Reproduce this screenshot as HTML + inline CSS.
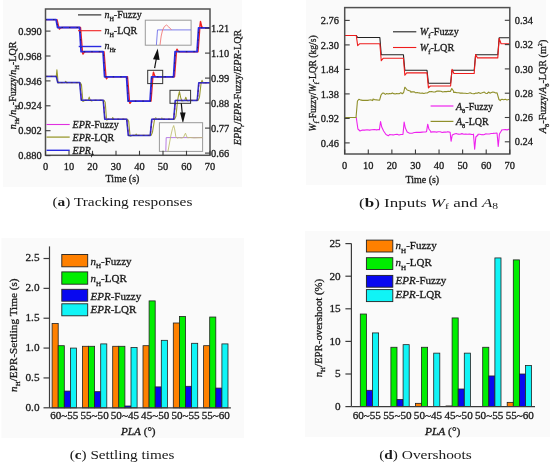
<!DOCTYPE html>
<html><head><meta charset="utf-8"><title>Figure</title>
<style>
html,body{margin:0;padding:0;background:#fff;}
body{width:550px;height:467px;overflow:hidden;}
svg{display:block;filter:blur(0.35px);}
svg text{font-family:"Liberation Serif", serif;fill:#1a1a1a;stroke:#1a1a1a;stroke-width:0.3px;}
</style></head>
<body>
<svg width="550" height="467" viewBox="0 0 550 467">
<rect width="550" height="467" fill="#fff"/>
<rect x="3.00" y="0.00" width="239.00" height="187.00" fill="#fafafa" stroke="none" stroke-width="1.0" />
<rect x="306.00" y="0.00" width="240.00" height="185.00" fill="#fafafa" stroke="none" stroke-width="1.0" />
<rect x="1.50" y="238.00" width="242.50" height="200.00" fill="#fafafa" stroke="none" stroke-width="1.0" />
<rect x="305.00" y="231.00" width="245.00" height="206.00" fill="#fafafa" stroke="none" stroke-width="1.0" />
<polyline points="45.50,76.40 56.31,76.40 58.07,82.60 79.81,82.60 81.57,100.30 103.31,100.30 105.07,119.20 126.81,119.20 128.57,135.40 150.31,135.40 152.07,119.20 173.81,119.20 175.57,100.40 197.31,100.40 199.07,82.80 210.00,82.80" fill="none" stroke="#e030e0" stroke-width="1.0" stroke-linejoin="round" />
<polyline points="45.50,76.40 56.31,76.40 56.90,69.80 57.48,75.40 58.07,83.00 59.37,82.60 64.77,82.60 65.71,81.40 66.65,82.60 80.05,82.60 81.45,84.60 82.87,101.50 84.98,100.30 88.15,100.30 89.21,97.10 90.27,100.30 91.56,100.90 93.67,100.30 104.02,100.30 105.19,102.30 106.60,120.00 108.72,119.20 111.77,119.20 112.71,117.60 113.65,119.20 127.52,119.20 128.69,121.20 130.10,136.20 132.22,135.40 135.27,135.40 136.21,134.10 137.15,135.40 151.01,135.40 152.43,132.40 154.54,119.50 155.72,117.80 157.36,119.20 160.88,119.20 161.82,118.00 162.76,119.20 174.51,119.20 175.93,116.20 177.57,100.90 178.51,95.40 179.45,91.60 180.62,97.40 181.80,101.00 183.21,100.60 184.74,100.40 185.79,97.30 186.85,100.40 187.68,100.90 190.03,100.40 198.02,100.40 199.43,97.40 201.07,83.20 202.01,80.30 203.18,83.00 205.30,82.80 210.00,82.80" fill="none" stroke="#9a9a30" stroke-width="1.1" stroke-linejoin="round" />
<polyline points="45.50,76.40 56.19,76.40 57.72,82.60 79.69,82.60 81.22,100.30 103.19,100.30 104.72,119.20 126.69,119.20 128.22,135.40 150.19,135.40 151.72,119.20 173.69,119.20 175.22,100.40 197.19,100.40 198.72,82.80 210.00,82.80" fill="none" stroke="#3030d0" stroke-width="1.5" stroke-linejoin="round" />
<polyline points="45.50,76.40 56.31,76.40 57.95,82.60 79.81,82.60 81.45,100.30 103.31,100.30 104.96,119.20 126.81,119.20 128.45,135.40 150.31,135.40 151.95,119.20 173.81,119.20 175.46,100.40 197.31,100.40 198.96,82.80 210.00,82.80" fill="none" stroke="#402a70" stroke-width="0.9" stroke-linejoin="round" stroke-dasharray="2,3"/>
<polyline points="45.50,19.60 57.02,19.60 59.01,28.14 59.48,29.10 60.77,27.74 62.42,27.50 80.52,27.50 82.51,52.66 82.98,54.10 84.28,52.06 85.92,51.70 104.02,51.70 106.01,77.60 106.48,78.80 107.78,77.10 109.42,76.80 127.52,76.80 129.51,102.02 129.98,103.40 131.28,101.44 132.92,101.10 151.01,101.10 153.01,74.96 153.48,72.20 154.78,76.11 156.42,76.80 174.51,76.80 176.51,50.66 176.98,49.10 178.28,51.31 179.92,51.70 198.02,51.70 200.01,25.28 200.48,21.50 201.78,26.86 203.42,27.80 210.00,27.80" fill="none" stroke="#f02020" stroke-width="1.4" stroke-linejoin="round" />
<polyline points="45.50,19.60 56.08,19.60 57.60,27.50 79.58,27.50 81.10,51.70 103.08,51.70 104.60,76.80 126.58,76.80 128.10,101.10 150.07,101.10 151.60,76.80 173.57,76.80 175.10,51.70 197.07,51.70 198.60,27.80 210.00,27.80" fill="none" stroke="#2a2ae0" stroke-width="1.8" stroke-linejoin="round" />
<polyline points="45.50,19.60 56.43,19.60 57.95,27.50 79.93,27.50 81.45,51.70 103.43,51.70 104.96,76.80 126.93,76.80 128.45,101.10 150.43,101.10 151.95,76.80 173.93,76.80 175.46,51.70 197.43,51.70 198.96,27.80 210.00,27.80" fill="none" stroke="#202050" stroke-width="0.8" stroke-linejoin="round" stroke-dasharray="1.5,6"/>
<rect x="147.70" y="70.30" width="15.00" height="13.30" fill="none" stroke="#333" stroke-width="1.0" />
<line x1="154.60" y1="68.20" x2="156.40" y2="58.50" stroke="#111" stroke-width="1.2" />
<polygon points="153.0,59.2 157.7,48.5 159.6,59.9" fill="#111"/>
<rect x="145.30" y="20.20" width="45.80" height="25.00" fill="#fcfcfc" stroke="#9a9a9a" stroke-width="1.0" />
<polyline points="156.40,45.00 157.50,29.90 191.00,29.90" fill="none" stroke="#7070e8" stroke-width="0.9" stroke-linejoin="round" />
<polyline points="160.00,45.00 161.20,36.00 162.60,30.00 164.40,26.50 166.60,25.00 168.80,27.00 171.60,29.90" fill="none" stroke="#f07878" stroke-width="0.9" stroke-linejoin="round" />
<rect x="170.00" y="90.30" width="20.60" height="13.00" fill="none" stroke="#333" stroke-width="1.0" />
<line x1="181.30" y1="103.30" x2="182.30" y2="114.00" stroke="#111" stroke-width="1.2" />
<polygon points="180.0,112.4 182.9,123.6 185.6,112.4" fill="#111"/>
<rect x="159.40" y="122.70" width="43.20" height="28.70" fill="#fcfcfc" stroke="#9a9a9a" stroke-width="1.0" />
<polyline points="165.80,151.20 166.20,137.60 202.60,137.60" fill="none" stroke="#b070e0" stroke-width="0.9" stroke-linejoin="round" />
<polyline points="168.00,151.20 169.50,143.00 171.00,135.00 172.50,128.50 173.70,125.50 174.80,130.00 175.80,136.50 177.00,138.20 179.00,137.60 181.50,138.00 183.50,137.50 184.50,135.00 185.50,133.20 186.50,136.00 187.50,137.80 190.00,137.50 194.00,137.90 202.60,137.60" fill="none" stroke="#c0c070" stroke-width="0.9" stroke-linejoin="round" />
<rect x="45.50" y="9.00" width="164.50" height="146.30" fill="none" stroke="#505050" stroke-width="1.5" />
<line x1="45.50" y1="31.10" x2="50.50" y2="31.10" stroke="#3c3c3c" stroke-width="1.1" />
<text x="41.60" y="34.70" font-size="10.4" text-anchor="end" >0.990</text>
<line x1="45.50" y1="56.00" x2="50.50" y2="56.00" stroke="#3c3c3c" stroke-width="1.1" />
<text x="41.60" y="59.60" font-size="10.4" text-anchor="end" >0.968</text>
<line x1="45.50" y1="80.90" x2="50.50" y2="80.90" stroke="#3c3c3c" stroke-width="1.1" />
<text x="41.60" y="84.50" font-size="10.4" text-anchor="end" >0.946</text>
<line x1="45.50" y1="105.80" x2="50.50" y2="105.80" stroke="#3c3c3c" stroke-width="1.1" />
<text x="41.60" y="109.40" font-size="10.4" text-anchor="end" >0.924</text>
<line x1="45.50" y1="130.70" x2="50.50" y2="130.70" stroke="#3c3c3c" stroke-width="1.1" />
<text x="41.60" y="134.30" font-size="10.4" text-anchor="end" >0.902</text>
<line x1="45.50" y1="155.60" x2="50.50" y2="155.60" stroke="#3c3c3c" stroke-width="1.1" />
<text x="41.60" y="159.20" font-size="10.4" text-anchor="end" >0.880</text>
<line x1="205.00" y1="28.10" x2="210.00" y2="28.10" stroke="#3c3c3c" stroke-width="1.1" />
<text x="211.00" y="31.70" font-size="10.4" text-anchor="start" >1.21</text>
<line x1="205.00" y1="53.10" x2="210.00" y2="53.10" stroke="#3c3c3c" stroke-width="1.1" />
<text x="211.00" y="56.70" font-size="10.4" text-anchor="start" >1.10</text>
<line x1="205.00" y1="78.10" x2="210.00" y2="78.10" stroke="#3c3c3c" stroke-width="1.1" />
<text x="211.00" y="81.70" font-size="10.4" text-anchor="start" >0.99</text>
<line x1="205.00" y1="103.10" x2="210.00" y2="103.10" stroke="#3c3c3c" stroke-width="1.1" />
<text x="211.00" y="106.70" font-size="10.4" text-anchor="start" >0.88</text>
<line x1="205.00" y1="128.10" x2="210.00" y2="128.10" stroke="#3c3c3c" stroke-width="1.1" />
<text x="211.00" y="131.70" font-size="10.4" text-anchor="start" >0.77</text>
<line x1="205.00" y1="153.10" x2="210.00" y2="153.10" stroke="#3c3c3c" stroke-width="1.1" />
<text x="211.00" y="156.70" font-size="10.4" text-anchor="start" >0.66</text>
<line x1="45.50" y1="155.30" x2="45.50" y2="150.80" stroke="#3c3c3c" stroke-width="1.1" />
<text x="45.50" y="169.60" font-size="10.4" text-anchor="middle" >0</text>
<line x1="69.00" y1="155.30" x2="69.00" y2="150.80" stroke="#3c3c3c" stroke-width="1.1" />
<text x="69.00" y="169.60" font-size="10.4" text-anchor="middle" >10</text>
<line x1="92.50" y1="155.30" x2="92.50" y2="150.80" stroke="#3c3c3c" stroke-width="1.1" />
<text x="92.50" y="169.60" font-size="10.4" text-anchor="middle" >20</text>
<line x1="116.00" y1="155.30" x2="116.00" y2="150.80" stroke="#3c3c3c" stroke-width="1.1" />
<text x="116.00" y="169.60" font-size="10.4" text-anchor="middle" >30</text>
<line x1="139.50" y1="155.30" x2="139.50" y2="150.80" stroke="#3c3c3c" stroke-width="1.1" />
<text x="139.50" y="169.60" font-size="10.4" text-anchor="middle" >40</text>
<line x1="163.00" y1="155.30" x2="163.00" y2="150.80" stroke="#3c3c3c" stroke-width="1.1" />
<text x="163.00" y="169.60" font-size="10.4" text-anchor="middle" >50</text>
<line x1="186.50" y1="155.30" x2="186.50" y2="150.80" stroke="#3c3c3c" stroke-width="1.1" />
<text x="186.50" y="169.60" font-size="10.4" text-anchor="middle" >60</text>
<line x1="210.00" y1="155.30" x2="210.00" y2="150.80" stroke="#3c3c3c" stroke-width="1.1" />
<text x="210.00" y="169.60" font-size="10.4" text-anchor="middle" >70</text>
<text x="122.50" y="181.80" font-size="10" text-anchor="middle" >Time (s)</text>
<line x1="78.00" y1="14.90" x2="101.30" y2="14.90" stroke="#202020" stroke-width="1.1" />
<line x1="78.00" y1="30.70" x2="101.30" y2="30.70" stroke="#f02020" stroke-width="1.1" />
<line x1="78.70" y1="46.50" x2="101.30" y2="46.50" stroke="#2a2ae0" stroke-width="1.4" />
<text x="104.40" y="17.80" font-size="10"><tspan font-style="italic">n</tspan><tspan font-size="6.20" dy="3">H</tspan><tspan dy="-3">-Fuzzy</tspan></text>
<text x="104.40" y="33.60" font-size="10"><tspan font-style="italic">n</tspan><tspan font-size="6.20" dy="3">H</tspan><tspan dy="-3">-LQR</tspan></text>
<text x="104.40" y="49.20" font-size="10"><tspan font-style="italic">n</tspan><tspan font-size="6.20" dy="3">Hr</tspan><tspan dy="-3"></tspan></text>
<line x1="46.50" y1="124.50" x2="69.70" y2="124.50" stroke="#e030e0" stroke-width="1.1" />
<line x1="46.50" y1="137.10" x2="69.70" y2="137.10" stroke="#9a9a30" stroke-width="1.3" />
<line x1="46.50" y1="150.30" x2="69.70" y2="150.30" stroke="#2a2ae0" stroke-width="1.4" />
<text x="72.6" y="127.8" font-size="10"><tspan font-style="italic">EPR</tspan>-Fuzzy</text>
<text x="72.6" y="140.6" font-size="10"><tspan font-style="italic">EPR</tspan>-LQR</text>
<text x="72.6" y="153.5" font-size="10"><tspan font-style="italic">EPR</tspan><tspan font-size="6.4" dy="3" font-style="italic">r</tspan></text>
<text transform="translate(16.2,85.5) rotate(-90)" font-size="10" text-anchor="middle"><tspan font-style="italic">n</tspan><tspan font-size="6.4" dy="3">Hr</tspan><tspan dy="-3">/</tspan><tspan font-style="italic">n</tspan><tspan font-size="6.4" dy="3">H</tspan><tspan dy="-3">-Fuzzy/</tspan><tspan font-style="italic">n</tspan><tspan font-size="6.4" dy="3">H</tspan><tspan dy="-3">-LQR</tspan></text>
<text transform="translate(241.2,87.5) rotate(-90)" font-size="10.2" text-anchor="middle" textLength="115.5" lengthAdjust="spacingAndGlyphs"><tspan font-style="italic">EPR</tspan><tspan font-size="6.4" dy="3" font-style="italic">r</tspan><tspan dy="-3">/</tspan><tspan font-style="italic">EPR</tspan>-Fuzzy/<tspan font-style="italic">EPR</tspan>-LQR</text>
<text x="52.4" y="206.2" font-size="13.2" style="stroke-width:0" textLength="140" lengthAdjust="spacingAndGlyphs">(<tspan font-weight="bold">a</tspan>) Tracking responses</text>
<polyline points="344.70,117.50 356.26,117.50 357.91,129.00 360.03,131.00 362.39,130.00 362.39,130.03 364.75,130.09 367.11,129.80 369.46,130.10 371.82,129.69 374.18,129.55 376.54,129.86 378.90,129.52 379.37,129.80 380.55,121.50 381.73,127.00 383.62,131.00 385.98,134.50 388.33,135.80 389.51,134.60 391.40,134.77 393.29,134.92 395.17,134.43 397.06,134.27 398.95,135.05 400.83,134.46 402.96,134.50 404.14,122.10 405.32,128.00 407.20,132.00 409.56,133.20 410.74,133.26 412.63,133.08 414.51,132.44 416.40,132.40 418.29,132.34 420.17,132.34 422.06,132.17 423.95,132.01 425.83,131.95 426.54,131.60 427.72,124.20 428.90,129.00 430.79,131.50 430.79,132.24 432.67,131.85 434.56,131.81 436.45,132.14 438.34,131.70 440.22,131.80 442.11,132.51 444.00,132.10 445.88,132.16 447.77,131.67 449.66,132.11 450.13,132.20 451.07,141.30 452.25,135.00 454.37,134.00 454.37,134.08 456.26,133.54 458.15,134.16 460.03,134.19 461.92,133.64 463.81,134.23 465.69,134.08 467.58,134.32 469.47,134.01 471.36,134.38 473.24,134.44 473.48,134.20 474.66,149.30 475.84,137.00 477.96,135.00 477.96,134.32 479.85,134.20 481.73,134.66 483.62,134.79 485.51,133.92 487.39,133.97 489.28,133.94 491.17,133.51 493.05,133.40 494.94,133.19 496.83,133.09 497.06,133.20 498.24,146.40 499.42,134.00 501.55,130.50 501.55,130.08 503.43,129.73 505.32,129.67 507.21,129.87 509.09,129.16 509.80,129.50" fill="none" stroke="#ee22ee" stroke-width="1.1" stroke-linejoin="round" />
<polyline points="344.70,117.50 356.02,117.50 357.44,101.00 358.85,99.30 361.21,100.20 361.21,100.09 362.86,100.34 364.51,100.20 366.16,100.38 367.81,100.40 369.46,99.95 371.12,99.91 372.77,100.57 373.00,99.00 374.42,99.60 379.61,100.20 381.02,95.00 382.44,93.20 382.44,93.21 383.85,93.15 385.27,94.35 386.68,93.49 388.10,94.06 389.51,93.46 390.93,93.70 392.34,92.90 393.76,93.65 395.17,94.00 396.59,93.43 398.00,93.76 399.42,93.63 400.83,92.64 402.25,93.73 403.66,92.50 404.84,87.20 407.20,90.00 410.74,91.20 410.74,92.11 412.39,91.89 414.04,91.70 415.69,92.83 417.34,92.48 419.00,92.91 420.65,93.23 422.30,93.16 423.95,93.54 425.60,93.04 427.25,93.00 429.61,91.50 429.61,91.80 431.50,91.44 433.38,91.94 435.27,91.88 437.16,91.10 439.04,91.14 440.93,91.22 442.82,91.97 444.70,91.44 446.59,91.63 448.48,91.30 450.36,91.51 450.84,90.50 451.78,88.50 453.67,91.20 453.67,92.39 455.32,92.41 456.97,92.71 458.62,92.78 460.27,93.16 461.92,93.00 463.57,93.31 465.22,93.30 466.87,93.50 468.53,93.24 470.18,92.80 471.83,93.56 473.48,93.73 474.42,93.65 475.84,93.08 477.25,93.28 478.67,92.44 480.08,93.41 481.50,92.96 482.91,92.47 484.33,92.08 485.74,93.32 487.16,93.50 488.57,92.03 489.99,93.14 491.40,92.48 492.82,92.03 494.23,92.23 495.65,92.96 497.06,92.80 498.95,99.50 500.37,100.60 500.37,100.07 502.02,99.24 503.67,99.81 505.32,99.24 506.97,99.92 508.62,99.53 509.80,99.50" fill="none" stroke="#8f8f2a" stroke-width="1.1" stroke-linejoin="round" />
<polyline points="344.70,35.50 356.26,35.50 357.67,37.50 379.84,37.50 381.26,54.70 403.43,54.70 404.84,70.30 427.01,70.30 428.43,83.20 450.60,83.20 452.01,70.20 474.19,70.20 475.60,54.70 497.77,54.70 499.19,37.70 509.80,37.70" fill="none" stroke="#222" stroke-width="1.1" stroke-linejoin="round" />
<polyline points="344.70,35.50 356.26,35.50 357.67,45.60 359.56,43.80 379.84,43.80 381.26,60.70 383.14,58.30 403.43,58.30 404.84,75.20 406.73,72.90 427.01,72.90 428.43,87.90 430.32,86.00 450.60,86.00 452.01,69.30 453.90,73.50 474.19,73.50 475.60,54.60 477.49,57.90 497.77,57.90 499.19,38.40 501.07,43.70 509.80,43.70" fill="none" stroke="#ee1c1c" stroke-width="1.1" stroke-linejoin="round" />
<rect x="344.70" y="7.60" width="165.10" height="146.40" fill="none" stroke="#505050" stroke-width="1.5" />
<line x1="344.70" y1="20.40" x2="349.70" y2="20.40" stroke="#3c3c3c" stroke-width="1.1" />
<text x="339.00" y="24.00" font-size="10.4" text-anchor="end" >2.76</text>
<line x1="344.70" y1="44.90" x2="349.70" y2="44.90" stroke="#3c3c3c" stroke-width="1.1" />
<text x="339.00" y="48.50" font-size="10.4" text-anchor="end" >2.30</text>
<line x1="344.70" y1="69.40" x2="349.70" y2="69.40" stroke="#3c3c3c" stroke-width="1.1" />
<text x="339.00" y="73.00" font-size="10.4" text-anchor="end" >1.84</text>
<line x1="344.70" y1="93.90" x2="349.70" y2="93.90" stroke="#3c3c3c" stroke-width="1.1" />
<text x="339.00" y="97.50" font-size="10.4" text-anchor="end" >1.38</text>
<line x1="344.70" y1="118.40" x2="349.70" y2="118.40" stroke="#3c3c3c" stroke-width="1.1" />
<text x="339.00" y="122.00" font-size="10.4" text-anchor="end" >0.92</text>
<line x1="344.70" y1="142.90" x2="349.70" y2="142.90" stroke="#3c3c3c" stroke-width="1.1" />
<text x="339.00" y="146.50" font-size="10.4" text-anchor="end" >0.46</text>
<line x1="504.80" y1="20.30" x2="509.80" y2="20.30" stroke="#3c3c3c" stroke-width="1.1" />
<text x="514.80" y="23.90" font-size="10.4" text-anchor="start" >0.34</text>
<line x1="504.80" y1="44.60" x2="509.80" y2="44.60" stroke="#3c3c3c" stroke-width="1.1" />
<text x="514.80" y="48.20" font-size="10.4" text-anchor="start" >0.32</text>
<line x1="504.80" y1="68.90" x2="509.80" y2="68.90" stroke="#3c3c3c" stroke-width="1.1" />
<text x="514.80" y="72.50" font-size="10.4" text-anchor="start" >0.30</text>
<line x1="504.80" y1="93.20" x2="509.80" y2="93.20" stroke="#3c3c3c" stroke-width="1.1" />
<text x="514.80" y="96.80" font-size="10.4" text-anchor="start" >0.28</text>
<line x1="504.80" y1="117.50" x2="509.80" y2="117.50" stroke="#3c3c3c" stroke-width="1.1" />
<text x="514.80" y="121.10" font-size="10.4" text-anchor="start" >0.26</text>
<line x1="504.80" y1="141.80" x2="509.80" y2="141.80" stroke="#3c3c3c" stroke-width="1.1" />
<text x="514.80" y="145.40" font-size="10.4" text-anchor="start" >0.24</text>
<line x1="344.70" y1="154.00" x2="344.70" y2="149.50" stroke="#3c3c3c" stroke-width="1.1" />
<text x="344.70" y="169.00" font-size="10.4" text-anchor="middle" >0</text>
<line x1="368.29" y1="154.00" x2="368.29" y2="149.50" stroke="#3c3c3c" stroke-width="1.1" />
<text x="368.29" y="169.00" font-size="10.4" text-anchor="middle" >10</text>
<line x1="391.87" y1="154.00" x2="391.87" y2="149.50" stroke="#3c3c3c" stroke-width="1.1" />
<text x="391.87" y="169.00" font-size="10.4" text-anchor="middle" >20</text>
<line x1="415.46" y1="154.00" x2="415.46" y2="149.50" stroke="#3c3c3c" stroke-width="1.1" />
<text x="415.46" y="169.00" font-size="10.4" text-anchor="middle" >30</text>
<line x1="439.04" y1="154.00" x2="439.04" y2="149.50" stroke="#3c3c3c" stroke-width="1.1" />
<text x="439.04" y="169.00" font-size="10.4" text-anchor="middle" >40</text>
<line x1="462.63" y1="154.00" x2="462.63" y2="149.50" stroke="#3c3c3c" stroke-width="1.1" />
<text x="462.63" y="169.00" font-size="10.4" text-anchor="middle" >50</text>
<line x1="486.21" y1="154.00" x2="486.21" y2="149.50" stroke="#3c3c3c" stroke-width="1.1" />
<text x="486.21" y="169.00" font-size="10.4" text-anchor="middle" >60</text>
<line x1="509.80" y1="154.00" x2="509.80" y2="149.50" stroke="#3c3c3c" stroke-width="1.1" />
<text x="509.80" y="169.00" font-size="10.4" text-anchor="middle" >70</text>
<text x="422.30" y="182.60" font-size="10" text-anchor="middle" >Time (s)</text>
<line x1="393.00" y1="31.80" x2="416.30" y2="31.80" stroke="#222" stroke-width="1.1" />
<line x1="393.00" y1="47.50" x2="416.30" y2="47.50" stroke="#ee1c1c" stroke-width="1.1" />
<text x="419.8" y="34.8" font-size="10.2"><tspan font-style="italic">W</tspan><tspan font-size="6.4" dy="3">f</tspan><tspan dy="-3">-Fuzzy</tspan></text>
<text x="419.8" y="50.7" font-size="10.2"><tspan font-style="italic">W</tspan><tspan font-size="6.4" dy="3">f</tspan><tspan dy="-3">-LQR</tspan></text>
<line x1="430.60" y1="106.00" x2="453.40" y2="106.00" stroke="#ee22ee" stroke-width="1.2" />
<line x1="430.60" y1="121.40" x2="453.40" y2="121.40" stroke="#8f8f2a" stroke-width="1.2" />
<text x="456" y="109.6" font-size="10"><tspan font-style="italic">A</tspan><tspan font-size="6.4" dy="3">8</tspan><tspan dy="-3">-Fuzzy</tspan></text>
<text x="456" y="125.0" font-size="10"><tspan font-style="italic">A</tspan><tspan font-size="6.4" dy="3">8</tspan><tspan dy="-3">-LQR</tspan></text>
<text transform="translate(316.4,83.4) rotate(-90)" font-size="10" text-anchor="middle" textLength="96" lengthAdjust="spacingAndGlyphs"><tspan font-style="italic">W</tspan><tspan font-size="6.4" dy="3">f</tspan><tspan dy="-3">-Fuzzy/</tspan><tspan font-style="italic">W</tspan><tspan font-size="6.4" dy="3">f</tspan><tspan dy="-3">-LQR (kg/s)</tspan></text>
<text transform="translate(546,86.4) rotate(-90)" font-size="10" text-anchor="middle" textLength="93.5" lengthAdjust="spacingAndGlyphs"><tspan font-style="italic">A</tspan><tspan font-size="6.4" dy="3">8</tspan><tspan dy="-3">-Fuzzy/</tspan><tspan font-style="italic">A</tspan><tspan font-size="6.4" dy="3">8</tspan><tspan dy="-3">-LQR (m</tspan><tspan font-size="6.2" dy="-4">2</tspan><tspan dy="4">)</tspan></text>
<text x="359.1" y="206.6" font-size="13.2" style="stroke-width:0" textLength="139" lengthAdjust="spacingAndGlyphs">(<tspan font-weight="bold">b</tspan>) Inputs <tspan font-style="italic">W</tspan><tspan font-size="9" dy="2.5">f</tspan><tspan dy="-2.5"> and </tspan><tspan font-style="italic">A</tspan><tspan font-size="9" dy="2.5">8</tspan></text>
<rect x="52.10" y="323.59" width="6.10" height="84.21" fill="#ff8000" stroke="#222" stroke-width="0.8" />
<rect x="58.20" y="345.69" width="6.10" height="62.11" fill="#00ee00" stroke="#222" stroke-width="0.8" />
<rect x="64.30" y="391.08" width="6.10" height="16.72" fill="#0808f0" stroke="#222" stroke-width="0.8" />
<rect x="70.40" y="348.08" width="6.10" height="59.72" fill="#10f4f6" stroke="#222" stroke-width="0.8" />
<rect x="82.40" y="346.29" width="6.10" height="61.51" fill="#ff8000" stroke="#222" stroke-width="0.8" />
<rect x="88.50" y="346.29" width="6.10" height="61.51" fill="#00ee00" stroke="#222" stroke-width="0.8" />
<rect x="94.60" y="391.68" width="6.10" height="16.12" fill="#0808f0" stroke="#222" stroke-width="0.8" />
<rect x="100.70" y="343.90" width="6.10" height="63.90" fill="#10f4f6" stroke="#222" stroke-width="0.8" />
<rect x="112.70" y="346.29" width="6.10" height="61.51" fill="#ff8000" stroke="#222" stroke-width="0.8" />
<rect x="118.80" y="346.29" width="6.10" height="61.51" fill="#00ee00" stroke="#222" stroke-width="0.8" />
<rect x="124.90" y="406.01" width="6.10" height="1.79" fill="#0808f0" stroke="#222" stroke-width="0.8" />
<rect x="131.00" y="347.48" width="6.10" height="60.32" fill="#10f4f6" stroke="#222" stroke-width="0.8" />
<rect x="143.00" y="345.69" width="6.10" height="62.11" fill="#ff8000" stroke="#222" stroke-width="0.8" />
<rect x="149.10" y="300.90" width="6.10" height="106.90" fill="#00ee00" stroke="#222" stroke-width="0.8" />
<rect x="155.20" y="386.90" width="6.10" height="20.90" fill="#0808f0" stroke="#222" stroke-width="0.8" />
<rect x="161.30" y="340.32" width="6.10" height="67.48" fill="#10f4f6" stroke="#222" stroke-width="0.8" />
<rect x="173.30" y="323.00" width="6.10" height="84.80" fill="#ff8000" stroke="#222" stroke-width="0.8" />
<rect x="179.40" y="316.43" width="6.10" height="91.37" fill="#00ee00" stroke="#222" stroke-width="0.8" />
<rect x="185.50" y="386.30" width="6.10" height="21.50" fill="#0808f0" stroke="#222" stroke-width="0.8" />
<rect x="191.60" y="343.30" width="6.10" height="64.50" fill="#10f4f6" stroke="#222" stroke-width="0.8" />
<rect x="203.60" y="345.69" width="6.10" height="62.11" fill="#ff8000" stroke="#222" stroke-width="0.8" />
<rect x="209.70" y="317.03" width="6.10" height="90.77" fill="#00ee00" stroke="#222" stroke-width="0.8" />
<rect x="215.80" y="388.09" width="6.10" height="19.71" fill="#0808f0" stroke="#222" stroke-width="0.8" />
<rect x="221.90" y="343.90" width="6.10" height="63.90" fill="#10f4f6" stroke="#222" stroke-width="0.8" />
<line x1="49.50" y1="246.40" x2="49.50" y2="407.80" stroke="#3c3c3c" stroke-width="1.2" />
<line x1="49.50" y1="407.80" x2="230.90" y2="407.80" stroke="#3c3c3c" stroke-width="1.2" />
<line x1="43.50" y1="407.80" x2="49.50" y2="407.80" stroke="#3c3c3c" stroke-width="1.2" />
<text x="39.50" y="410.60" font-size="11.2" text-anchor="end" >0.0</text>
<line x1="43.50" y1="377.94" x2="49.50" y2="377.94" stroke="#3c3c3c" stroke-width="1.2" />
<text x="39.50" y="380.74" font-size="11.2" text-anchor="end" >0.5</text>
<line x1="43.50" y1="348.08" x2="49.50" y2="348.08" stroke="#3c3c3c" stroke-width="1.2" />
<text x="39.50" y="350.88" font-size="11.2" text-anchor="end" >1.0</text>
<line x1="43.50" y1="318.22" x2="49.50" y2="318.22" stroke="#3c3c3c" stroke-width="1.2" />
<text x="39.50" y="321.02" font-size="11.2" text-anchor="end" >1.5</text>
<line x1="43.50" y1="288.36" x2="49.50" y2="288.36" stroke="#3c3c3c" stroke-width="1.2" />
<text x="39.50" y="291.16" font-size="11.2" text-anchor="end" >2.0</text>
<line x1="43.50" y1="258.50" x2="49.50" y2="258.50" stroke="#3c3c3c" stroke-width="1.2" />
<text x="39.50" y="261.30" font-size="11.2" text-anchor="end" >2.5</text>
<text x="64.30" y="419.20" font-size="10.8" text-anchor="middle" textLength="28.2" lengthAdjust="spacingAndGlyphs">60~55</text>
<text x="94.60" y="419.20" font-size="10.8" text-anchor="middle" textLength="28.2" lengthAdjust="spacingAndGlyphs">55~50</text>
<text x="124.90" y="419.20" font-size="10.8" text-anchor="middle" textLength="28.2" lengthAdjust="spacingAndGlyphs">50~45</text>
<text x="155.20" y="419.20" font-size="10.8" text-anchor="middle" textLength="28.2" lengthAdjust="spacingAndGlyphs">45~50</text>
<text x="185.50" y="419.20" font-size="10.8" text-anchor="middle" textLength="28.2" lengthAdjust="spacingAndGlyphs">50~55</text>
<text x="215.80" y="419.20" font-size="10.8" text-anchor="middle" textLength="28.2" lengthAdjust="spacingAndGlyphs">55~60</text>
<text x="138.3" y="435" font-size="10.8" text-anchor="middle" textLength="34.6" lengthAdjust="spacingAndGlyphs"><tspan font-style="italic">PLA</tspan> (°)</text>
<text transform="translate(16.8,335.2) rotate(-90)" font-size="11" text-anchor="middle" textLength="113.5" lengthAdjust="spacingAndGlyphs"><tspan font-style="italic">n</tspan><tspan font-size="6.8" dy="3">H</tspan><tspan dy="-3">/EPR-Settling Time (s)</tspan></text>
<rect x="61.80" y="254.50" width="25.90" height="12.30" fill="#ff8000" stroke="#222" stroke-width="0.9" />
<rect x="61.80" y="271.90" width="25.90" height="12.30" fill="#00ee00" stroke="#222" stroke-width="0.9" />
<rect x="61.80" y="289.30" width="25.90" height="11.90" fill="#0808f0" stroke="#222" stroke-width="0.9" />
<rect x="61.80" y="303.80" width="25.90" height="12.00" fill="#10f4f6" stroke="#222" stroke-width="0.9" />
<text x="90.50" y="264.60" font-size="11"><tspan font-style="italic">n</tspan><tspan font-size="7.00" dy="3.8">H</tspan><tspan dy="-3.8">-Fuzzy</tspan></text>
<text x="90.50" y="281.90" font-size="11"><tspan font-style="italic">n</tspan><tspan font-size="7.00" dy="3.8">H</tspan><tspan dy="-3.8">-LQR</tspan></text>
<text x="90.5" y="299.6" font-size="11"><tspan font-style="italic">EPR</tspan>-Fuzzy</text>
<text x="90.5" y="312.7" font-size="11"><tspan font-style="italic">EPR</tspan>-LQR</text>
<text x="69.7" y="458.6" font-size="13.2" style="stroke-width:0" textLength="104.8" lengthAdjust="spacingAndGlyphs">(<tspan font-weight="bold">c</tspan>) Settling times</text>
<rect x="360.30" y="314.02" width="6.10" height="92.58" fill="#00ee00" stroke="#222" stroke-width="0.8" />
<rect x="366.40" y="390.30" width="6.10" height="16.30" fill="#0808f0" stroke="#222" stroke-width="0.8" />
<rect x="372.50" y="332.92" width="6.10" height="73.68" fill="#10f4f6" stroke="#222" stroke-width="0.8" />
<rect x="390.90" y="347.27" width="6.10" height="59.33" fill="#00ee00" stroke="#222" stroke-width="0.8" />
<rect x="397.00" y="399.43" width="6.10" height="7.17" fill="#0808f0" stroke="#222" stroke-width="0.8" />
<rect x="403.10" y="344.66" width="6.10" height="61.94" fill="#10f4f6" stroke="#222" stroke-width="0.8" />
<rect x="415.40" y="403.34" width="6.10" height="3.26" fill="#ff8000" stroke="#222" stroke-width="0.8" />
<rect x="421.50" y="347.27" width="6.10" height="59.33" fill="#00ee00" stroke="#222" stroke-width="0.8" />
<rect x="433.70" y="353.14" width="6.10" height="53.46" fill="#10f4f6" stroke="#222" stroke-width="0.8" />
<rect x="446.00" y="405.95" width="6.10" height="0.65" fill="#ff8000" stroke="#222" stroke-width="0.8" />
<rect x="452.10" y="317.93" width="6.10" height="88.67" fill="#00ee00" stroke="#222" stroke-width="0.8" />
<rect x="458.20" y="389.00" width="6.10" height="17.60" fill="#0808f0" stroke="#222" stroke-width="0.8" />
<rect x="464.30" y="353.14" width="6.10" height="53.46" fill="#10f4f6" stroke="#222" stroke-width="0.8" />
<rect x="482.70" y="347.27" width="6.10" height="59.33" fill="#00ee00" stroke="#222" stroke-width="0.8" />
<rect x="488.80" y="375.96" width="6.10" height="30.64" fill="#0808f0" stroke="#222" stroke-width="0.8" />
<rect x="494.90" y="257.94" width="6.10" height="148.66" fill="#10f4f6" stroke="#222" stroke-width="0.8" />
<rect x="507.20" y="402.36" width="6.10" height="4.24" fill="#ff8000" stroke="#222" stroke-width="0.8" />
<rect x="513.30" y="259.90" width="6.10" height="146.70" fill="#00ee00" stroke="#222" stroke-width="0.8" />
<rect x="519.40" y="374.00" width="6.10" height="32.60" fill="#0808f0" stroke="#222" stroke-width="0.8" />
<rect x="525.50" y="365.52" width="6.10" height="41.08" fill="#10f4f6" stroke="#222" stroke-width="0.8" />
<line x1="351.40" y1="243.50" x2="351.40" y2="406.60" stroke="#3c3c3c" stroke-width="1.2" />
<line x1="351.40" y1="406.60" x2="535.00" y2="406.60" stroke="#3c3c3c" stroke-width="1.2" />
<line x1="345.40" y1="406.60" x2="351.40" y2="406.60" stroke="#3c3c3c" stroke-width="1.2" />
<text x="340.60" y="409.90" font-size="11.2" text-anchor="end" >0</text>
<line x1="345.40" y1="374.00" x2="351.40" y2="374.00" stroke="#3c3c3c" stroke-width="1.2" />
<text x="340.60" y="377.30" font-size="11.2" text-anchor="end" >5</text>
<line x1="345.40" y1="341.40" x2="351.40" y2="341.40" stroke="#3c3c3c" stroke-width="1.2" />
<text x="340.60" y="344.70" font-size="11.2" text-anchor="end" >10</text>
<line x1="345.40" y1="308.80" x2="351.40" y2="308.80" stroke="#3c3c3c" stroke-width="1.2" />
<text x="340.60" y="312.10" font-size="11.2" text-anchor="end" >15</text>
<line x1="345.40" y1="276.20" x2="351.40" y2="276.20" stroke="#3c3c3c" stroke-width="1.2" />
<text x="340.60" y="279.50" font-size="11.2" text-anchor="end" >20</text>
<line x1="345.40" y1="243.60" x2="351.40" y2="243.60" stroke="#3c3c3c" stroke-width="1.2" />
<text x="340.60" y="246.90" font-size="11.2" text-anchor="end" >25</text>
<text x="366.80" y="418.60" font-size="10.8" text-anchor="middle" textLength="28.3" lengthAdjust="spacingAndGlyphs">60~55</text>
<text x="397.40" y="418.60" font-size="10.8" text-anchor="middle" textLength="28.3" lengthAdjust="spacingAndGlyphs">55~50</text>
<text x="428.00" y="418.60" font-size="10.8" text-anchor="middle" textLength="28.3" lengthAdjust="spacingAndGlyphs">50~45</text>
<text x="458.60" y="418.60" font-size="10.8" text-anchor="middle" textLength="28.3" lengthAdjust="spacingAndGlyphs">45~50</text>
<text x="489.20" y="418.60" font-size="10.8" text-anchor="middle" textLength="28.3" lengthAdjust="spacingAndGlyphs">50~55</text>
<text x="519.80" y="418.60" font-size="10.8" text-anchor="middle" textLength="28.3" lengthAdjust="spacingAndGlyphs">55~60</text>
<text x="442.6" y="434.9" font-size="10.8" text-anchor="middle" textLength="35.4" lengthAdjust="spacingAndGlyphs"><tspan font-style="italic">PLA</tspan> (°)</text>
<text transform="translate(321.8,328.1) rotate(-90)" font-size="11" text-anchor="middle" textLength="98.5" lengthAdjust="spacingAndGlyphs"><tspan font-style="italic">n</tspan><tspan font-size="6.8" dy="3">H</tspan><tspan dy="-3">/EPR-overshoot (%)</tspan></text>
<rect x="366.40" y="240.10" width="26.40" height="11.90" fill="#ff8000" stroke="#222" stroke-width="0.9" />
<rect x="366.40" y="257.70" width="26.40" height="11.80" fill="#00ee00" stroke="#222" stroke-width="0.9" />
<rect x="366.40" y="275.40" width="26.40" height="11.80" fill="#0808f0" stroke="#222" stroke-width="0.9" />
<rect x="366.40" y="289.60" width="26.40" height="12.00" fill="#10f4f6" stroke="#222" stroke-width="0.9" />
<text x="395.60" y="249.10" font-size="11"><tspan font-style="italic">n</tspan><tspan font-size="7.00" dy="3.8">H</tspan><tspan dy="-3.8">-Fuzzy</tspan></text>
<text x="395.60" y="266.40" font-size="11"><tspan font-style="italic">n</tspan><tspan font-size="7.00" dy="3.8">H</tspan><tspan dy="-3.8">-LQR</tspan></text>
<text x="395.6" y="283.9" font-size="11"><tspan font-style="italic">EPR</tspan>-Fuzzy</text>
<text x="395.6" y="298.3" font-size="11"><tspan font-style="italic">EPR</tspan>-LQR</text>
<text x="379.2" y="458.8" font-size="13.2" style="stroke-width:0" textLength="92.6" lengthAdjust="spacingAndGlyphs">(<tspan font-weight="bold">d</tspan>) Overshoots</text>
</svg>
</body></html>
